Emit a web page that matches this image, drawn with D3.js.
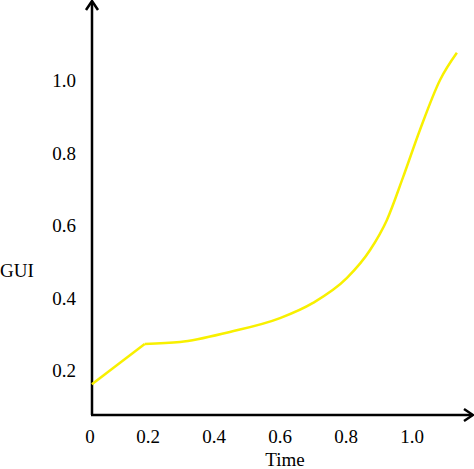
<!DOCTYPE html>
<html>
<head>
<meta charset="utf-8">
<script src="https://cdn.jsdelivr.net/npm/d3@7"></script>
<style>
body { margin: 0; background: #fff; }
text { font-family: "Liberation Serif", serif; font-size: 19px; fill: #000; }
</style>
</head>
<body>
<div class="diagram"></div>
<script>
var width = 474, height = 469;

// data
var times = [0.03, 0.19, 0.297, 0.448, 0.6, 0.7, 0.803, 0.873, 0.924, 0.973, 1.024, 1.085, 1.136];
var gui   = [0.161, 0.272, 0.277, 0.305, 0.343, 0.385, 0.454, 0.531, 0.614, 0.732, 0.862, 1.0, 1.075];
var xTicks = [0, 0.2, 0.4, 0.6, 0.8, 1.0];
var yTicks = [0.2, 0.4, 0.6, 0.8, 1.0];

var x = d3.scaleLinear().domain([0, 1]).range([82, 412]);
var y = d3.scaleLinear().domain([0.2, 1.0]).range([370, 80]);

var axisX = 92, axisY = 415;

var svg = d3.select('.diagram')
	.append('svg')
	.attr('width', width)
	.attr('height', height);

// axes with arrows
svg.append('line').attr('x1', axisX).attr('y1', axisY).attr('x2', axisX).attr('y2', 2)
	.attr('stroke', '#000').attr('stroke-width', 2.5);
svg.append('line').attr('x1', axisX - 1).attr('y1', axisY).attr('x2', 472).attr('y2', axisY)
	.attr('stroke', '#000').attr('stroke-width', 2.5);
svg.append('path').attr('d', 'M' + (axisX - 6) + ',10 L' + axisX + ',1 L' + (axisX + 6) + ',10')
	.attr('fill', 'none').attr('stroke', '#000').attr('stroke-width', 2.5);
svg.append('path').attr('d', 'M464,' + (axisY - 6) + ' L473,' + axisY + ' L464,' + (axisY + 6))
	.attr('fill', 'none').attr('stroke', '#000').attr('stroke-width', 2.5);

// tick labels
svg.selectAll('.xt').data(xTicks).enter().append('text')
	.attr('x', function(d) { return d === 0 ? axisX - 2 : x(d); })
	.attr('y', 443)
	.attr('text-anchor', 'middle')
	.text(function(d) { return d === 0 ? '0' : d.toFixed(1); });

svg.selectAll('.yt').data(yTicks).enter().append('text')
	.attr('x', 76)
	.attr('y', function(d) { return y(d) + 7; })
	.attr('text-anchor', 'end')
	.text(function(d) { return d.toFixed(1); });

svg.append('text').attr('x', 0).attr('y', 277).text('GUI');
svg.append('text').attr('x', 285).attr('y', 466).attr('text-anchor', 'middle').text('Time');

// curve
var pts = times.map(function(t, i) { return [t, gui[i]]; });
var line = d3.line()
	.x(function(d) { return x(d[0]); })
	.y(function(d) { return y(d[1]); });

svg.append('path')
	.attr('d', line.curve(d3.curveLinear)(pts.slice(0, 2)))
	.attr('fill', 'none').attr('stroke', '#f8f000').attr('stroke-width', 2.5);
svg.append('path')
	.attr('d', line.curve(d3.curveMonotoneX)(pts.slice(1)))
	.attr('fill', 'none').attr('stroke', '#f8f000').attr('stroke-width', 2.5);
</script>
</body>
</html>
